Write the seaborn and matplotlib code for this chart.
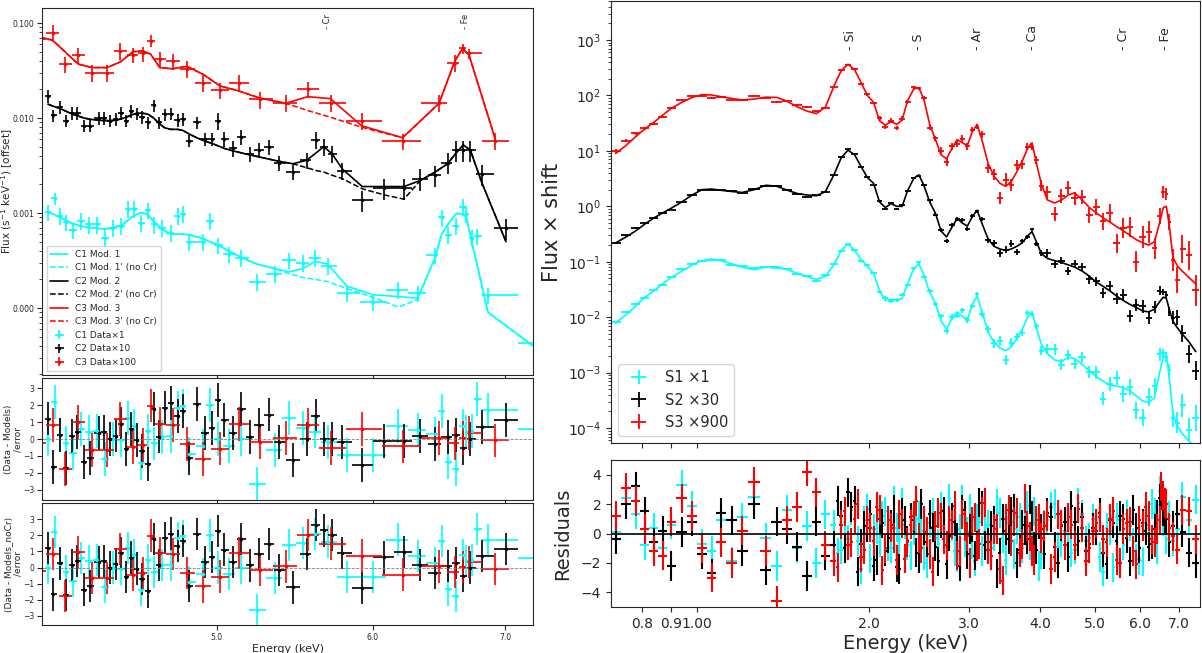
import numpy as np
import pandas as pd
import seaborn as sns
import matplotlib.pyplot as plt
from matplotlib.ticker import (FixedLocator, FixedFormatter, NullLocator,
                               NullFormatter, FormatStrFormatter)
from matplotlib.transforms import blended_transform_factory

sns.set_style("ticks")
plt.rcParams["font.family"] = ["DejaVu Sans"]

CYAN, BLACK, RED = "#00ffff", "black", "red"

# ---------------- left figure: zoom on 4-7 keV, three regions ----------------
e_c1 = [4.108, 4.14, 4.166, 4.195, 4.23, 4.267, 4.31, 4.35, 4.39, 4.43,
        4.474, 4.51, 4.54, 4.58, 4.615, 4.65, 4.69, 4.74, 4.778, 4.808,
        4.843, 4.92, 4.96, 5.01, 5.07, 5.146, 5.24, 5.35, 5.44, 5.53,
        5.61, 5.69, 5.82, 6.00, 6.18, 6.32, 6.45, 6.50, 6.545, 6.61,
        6.66, 6.69, 6.73, 6.77, 6.86, 7.35]
d_c1 = [0.00102, 0.00143, 0.00094, 0.00080, 0.00066, 0.00083, 0.00076, 0.00076, 0.00055, 0.00070,
        0.00073, 0.00111, 0.00111, 0.00079, 0.00107, 0.00076, 0.00070, 0.00062, 0.00094, 0.00098,
        0.00050, 0.00050, 0.00083, 0.00046, 0.00037, 0.00034, 0.00019, 0.00023, 0.00032, 0.00030,
        0.00034, 0.00028, 0.000143, 0.000116, 0.000156, 0.000143, 0.00036, 0.00090, 0.00059, 0.00073,
        0.00116, 0.00098, 0.00055, 0.00057, 0.000137, 0.000043]
m_c1 = [0.00102, 0.00096, 0.00090, 0.00084, 0.00077, 0.00073, 0.00070, 0.00069, 0.00068, 0.00070,
        0.00074, 0.00084, 0.00094, 0.00101, 0.00097, 0.00080, 0.00068, 0.00060, 0.00060, 0.00060,
        0.00059, 0.00054, 0.00050, 0.00046, 0.00040, 0.00034, 0.00029, 0.00026, 0.00024, 0.00026,
        0.00031, 0.00029, 0.00017, 0.000138, 0.000132, 0.000127, 0.00034, 0.00060, 0.00075, 0.00099,
        0.00098, 0.00090, 0.00050, 0.00030, 0.000090, 0.000031]
mnc_c1 = [0.00102, 0.00096, 0.00090, 0.00084, 0.00077, 0.00073, 0.00070, 0.00069, 0.00068, 0.00070,
          0.00074, 0.00084, 0.00094, 0.00101, 0.00097, 0.00080, 0.00068, 0.00060, 0.00060, 0.00060,
          0.00059, 0.00054, 0.00050, 0.00046, 0.00040, 0.00034, 0.00029, 0.00026, 0.00023, 0.00021,
          0.00020, 0.00019, 0.00016, 0.00013, 0.000102, 0.000123, 0.00034, 0.00060, 0.00075, 0.00099,
          0.00098, 0.00090, 0.00050, 0.00030, 0.000090, 0.000031]
f_c1 = [0.2, 0.15] + [0.2] * 43 + [0.45]

e_c2 = [4.108, 4.134, 4.166, 4.195, 4.227, 4.25, 4.285, 4.315, 4.358, 4.385,
        4.417, 4.446, 4.474, 4.501, 4.528, 4.555, 4.582, 4.615, 4.647, 4.675,
        4.706, 4.74, 4.778, 4.808, 4.842, 4.886, 4.935, 4.974, 5.008, 5.044,
        5.099, 5.146, 5.197, 5.254, 5.313, 5.38, 5.465, 5.554, 5.615, 5.665,
        5.72, 5.79, 5.925, 6.08, 6.22, 6.34, 6.45, 6.545, 6.61, 6.665,
        6.72, 6.81, 7.005]
d_c2 = [0.0171, 0.01064, 0.0131, 0.0094, 0.0113, 0.0113, 0.0083, 0.0083, 0.0100, 0.0100,
        0.0094, 0.0098, 0.0113, 0.0094, 0.0119, 0.0111, 0.0102, 0.0090, 0.0136, 0.0090,
        0.0109, 0.0111, 0.0095, 0.0098, 0.0058, 0.0090, 0.0060, 0.0060, 0.0094, 0.0060,
        0.0048, 0.0063, 0.0042, 0.0046, 0.0050, 0.0034, 0.0027, 0.0036, 0.0059, 0.0050,
        0.0042, 0.0028, 0.00137, 0.00184, 0.00184, 0.0023, 0.0025, 0.0034, 0.0046, 0.0046,
        0.0046, 0.00257, 0.0007]
m_c2 = [0.0140, 0.0133, 0.0126, 0.0118, 0.0110, 0.0106, 0.0100, 0.0097, 0.0095, 0.0094,
        0.0094, 0.0095, 0.0098, 0.0102, 0.0108, 0.0112, 0.0113, 0.0110, 0.0100, 0.0088,
        0.0079, 0.0076, 0.0076, 0.0074, 0.0068, 0.0062, 0.0057, 0.0054, 0.0051, 0.0048,
        0.0045, 0.0043, 0.0041, 0.0039, 0.0037, 0.0035, 0.0033, 0.0036, 0.0043, 0.0050,
        0.0042, 0.0029, 0.0019, 0.0019, 0.0019, 0.0022, 0.0027, 0.0033, 0.0043, 0.0052,
        0.0046, 0.0021, 0.0005]
mnc_c2 = [0.0140, 0.0133, 0.0126, 0.0118, 0.0110, 0.0106, 0.0100, 0.0097, 0.0095, 0.0094,
          0.0094, 0.0095, 0.0098, 0.0102, 0.0108, 0.0112, 0.0113, 0.0110, 0.0100, 0.0088,
          0.0079, 0.0076, 0.0076, 0.0074, 0.0068, 0.0062, 0.0057, 0.0054, 0.0051, 0.0048,
          0.0045, 0.0043, 0.0041, 0.0039, 0.0037, 0.0035, 0.0033, 0.0030, 0.0028, 0.0027,
          0.0025, 0.0023, 0.0018, 0.00155, 0.0014, 0.0022, 0.0027, 0.0033, 0.0043, 0.0052,
          0.0046, 0.0021, 0.0005]
f_c2 = [0.15] * 28 + [0.2] + [0.18] * 8 + [0.2] * 5 + [0.25] * 11

e_c3 = [4.07, 4.13, 4.19, 4.255, 4.325, 4.40, 4.47, 4.536, 4.59, 4.63,
        4.68, 4.75, 4.83, 4.92, 5.02, 5.13, 5.26, 5.42, 5.56, 5.71,
        5.92, 6.21, 6.48, 6.60, 6.66, 6.71, 6.92]
d_c3 = [0.068, 0.079, 0.037, 0.046, 0.030, 0.030, 0.0508, 0.046, 0.048, 0.065,
        0.0416, 0.0397, 0.0329, 0.0235, 0.0196, 0.0235, 0.0157, 0.0145, 0.0202, 0.0145,
        0.0094, 0.0057, 0.0145, 0.038, 0.0543, 0.048, 0.0058]
m_c3 = [0.071, 0.066, 0.050, 0.037, 0.034, 0.034, 0.039, 0.050, 0.051, 0.047,
        0.034, 0.033, 0.035, 0.029, 0.0218, 0.0193, 0.0162, 0.0143, 0.0168, 0.0160,
        0.0083, 0.0062, 0.0143, 0.040, 0.054, 0.046, 0.0059]
mnc_c3 = [0.071, 0.066, 0.050, 0.037, 0.034, 0.034, 0.039, 0.050, 0.051, 0.047,
          0.034, 0.033, 0.035, 0.029, 0.0218, 0.0193, 0.0162, 0.0143, 0.0120, 0.0102,
          0.0080, 0.0062, 0.0143, 0.040, 0.054, 0.046, 0.0059]
f_c3 = [0.2] * 7 + [0.18, 0.18, 0.14] + [0.2] * 14 + [0.12, 0.12, 0.2]

# ---------------- right figure: full band spectra ----------------
energy = [0.72, 0.75, 0.78, 0.81, 0.84, 0.87, 0.90, 0.94, 0.98, 1.02,
          1.06, 1.10, 1.15, 1.20, 1.26, 1.32, 1.38, 1.44, 1.50, 1.56,
          1.62, 1.68, 1.74, 1.79, 1.84, 1.89, 1.94, 1.99, 2.04, 2.09,
          2.14, 2.19, 2.24, 2.29, 2.34, 2.40, 2.45, 2.50, 2.56, 2.62,
          2.68, 2.74, 2.80, 2.86, 2.92, 2.98, 3.04, 3.10, 3.16, 3.24,
          3.32, 3.40, 3.48, 3.56, 3.64, 3.72, 3.80, 3.87, 3.94, 4.02,
          4.12, 4.24, 4.36, 4.48, 4.60, 4.74, 4.88, 5.02, 5.16, 5.30,
          5.45, 5.60, 5.75, 5.90, 6.05, 6.20, 6.35, 6.48, 6.58, 6.66,
          6.74, 6.84, 6.96, 7.10, 7.30, 7.50]
model_s1 = [0.0080, 0.011, 0.016, 0.023, 0.030, 0.040, 0.052, 0.068, 0.088, 0.105,
            0.112, 0.105, 0.092, 0.080, 0.072, 0.080, 0.082, 0.072, 0.062, 0.054,
            0.048, 0.055, 0.090, 0.16, 0.21, 0.16, 0.11, 0.082, 0.062, 0.030,
            0.020, 0.021, 0.020, 0.022, 0.040, 0.075, 0.092, 0.058, 0.028, 0.018,
            0.0085, 0.0062, 0.0095, 0.0125, 0.0105, 0.0088, 0.017, 0.024, 0.013, 0.0055,
            0.0035, 0.0028, 0.0025, 0.0029, 0.0042, 0.0060, 0.0098, 0.0122, 0.0065, 0.0032,
            0.0022, 0.0017, 0.0016, 0.0019, 0.0018, 0.0014, 0.0011, 0.00085, 0.00070, 0.00060,
            0.00057, 0.00054, 0.00047, 0.00038, 0.00031, 0.00029, 0.00035, 0.0010, 0.0019, 0.0021,
            0.0008, 0.00018, 0.00011, 0.000080, 0.000058, 0.000045]
model_s2 = [0.22, 0.28, 0.36, 0.48, 0.62, 0.76, 0.92, 1.2, 1.6, 2.0,
            2.05, 1.95, 1.85, 1.78, 2.0, 2.4, 2.3, 1.95, 1.7, 1.6,
            1.55, 1.85, 3.8, 7.5, 10.3, 8.5, 5.2, 3.3, 2.6, 1.2,
            0.95, 1.12, 1.0, 1.0, 1.9, 3.2, 3.7, 2.4, 1.2, 0.75,
            0.36, 0.28, 0.42, 0.60, 0.50, 0.44, 0.65, 0.85, 0.50, 0.26,
            0.19, 0.17, 0.16, 0.17, 0.19, 0.22, 0.29, 0.35, 0.23, 0.14,
            0.115, 0.105, 0.097, 0.088, 0.080, 0.068, 0.055, 0.043, 0.036, 0.030,
            0.024, 0.020, 0.017, 0.015, 0.013, 0.0125, 0.014, 0.019, 0.023, 0.022,
            0.014, 0.0085, 0.0065, 0.0050, 0.0036, 0.0024]
model_s3 = [9.0, 12.5, 18, 25, 33, 44, 58, 75, 92, 103,
            102, 95, 88, 83, 86, 93, 92, 78, 62, 52,
            47, 62, 150, 280, 365, 290, 170, 100, 75, 35,
            29, 34, 30, 36, 80, 130, 138, 85, 30, 16,
            8.5, 7.2, 11, 16, 14, 12.5, 22, 30, 16, 6.0,
            3.5, 2.6, 2.3, 2.8, 4.2, 6.5, 11, 14, 6.0, 2.5,
            1.3, 1.15, 1.3, 1.6, 1.75, 1.3, 0.95, 0.76, 0.62, 0.52,
            0.43, 0.36, 0.30, 0.25, 0.22, 0.20, 0.23, 0.50, 0.95, 1.0,
            0.45, 0.12, 0.085, 0.068, 0.052, 0.040]
frac_err = [0.06, 0.05, 0.05, 0.04, 0.04, 0.04, 0.035, 0.03, 0.03, 0.03,
            0.03, 0.03, 0.03, 0.03, 0.03, 0.03, 0.03, 0.03, 0.03, 0.035,
            0.035, 0.035, 0.03, 0.025, 0.02, 0.025, 0.03, 0.04, 0.045, 0.06,
            0.07, 0.07, 0.07, 0.07, 0.06, 0.05, 0.05, 0.06, 0.08, 0.09,
            0.12, 0.13, 0.12, 0.10, 0.11, 0.12, 0.10, 0.09, 0.12, 0.16,
            0.20, 0.22, 0.24, 0.22, 0.18, 0.15, 0.12, 0.11, 0.14, 0.20,
            0.24, 0.25, 0.25, 0.24, 0.24, 0.26, 0.28, 0.30, 0.32, 0.34,
            0.36, 0.38, 0.40, 0.42, 0.44, 0.45, 0.42, 0.30, 0.22, 0.22,
            0.30, 0.45, 0.55, 0.60, 0.65, 0.70]
res_s1 = [0.1, 2.4, 1.3, -0.8, 0.4, -1.0, 0.6, 3.3, 1.9, -0.7,
          -1.2, 0.9, -1.9, 1.1, 2.5, -0.3, -2.2, 1.6, -1.0, 0.5,
          -2.0, 1.3, 0.6, -1.1, -0.4, 1.0, -2.4, 1.7, 0.3, -0.6,
          1.5, -1.0, 0.4, 2.1, -0.8, 0.2, 1.2, -1.5, 0.7, -0.3,
          1.8, -0.9, 0.5, -1.6, 2.3, 0.1, -0.7, 1.0, -1.2, 0.6,
          -0.2, 1.4, -1.8, 0.8, 0.3, -1.0, 1.9, -0.5, 0.6, -1.4,
          0.9, 2.0, -0.6, 0.4, -1.1, 1.3, -0.3, 0.7, -2.6, 0.2,
          1.1, -0.8, 0.5, -1.7, -1.9, 0.6, 1.4, 2.9, 0.8, -0.4,
          1.2, -0.5, 0.3, 2.5, 0.9, 2.3]
res_s2 = [-0.4, 2.0, 3.2, 1.5, -0.6, 0.2, -2.2, 0.1, 0.8, -1.4,
          -2.7, 1.4, 0.9, -1.2, 2.0, -2.5, 0.8, 0.3, -0.9, -2.9,
          0.8, -1.5, -0.8, 1.2, 2.8, 2.2, -0.7, 0.4, -2.2, 1.0,
          -1.2, 0.6, -2.3, 1.4, -0.5, 0.9, -1.7, 0.2, 1.3, -0.9,
          0.7, -2.1, 1.1, -0.3, 1.6, -1.4, 0.4, -0.8, 1.9, -0.6,
          0.9, -1.3, 0.2, 1.5, -2.0, 0.6, -0.4, 1.2, -1.1, 0.3,
          1.4, -0.9, 0.5, -1.6, 0.8, 1.1, -0.7, 0.2, -1.3, 0.9,
          -0.5, 1.0, -1.9, 0.4, 0.7, -0.9, 0.3, 2.4, 1.5, 1.0,
          -0.6, 0.5, 1.3, 0.1, -1.3, -2.0]
res_s3 = [1.2, 3.1, 2.2, 0.3, -1.2, -1.5, 0.8, 2.4, 1.2, -1.0,
          -3.0, -0.6, -2.0, 0.2, 3.5, -1.2, -4.6, 0.9, 1.8, 4.2,
          2.8, -0.8, -1.9, 0.6, -0.8, 1.0, -1.6, 0.9, -0.5, 1.6,
          -1.0, 0.4, -1.8, 0.7, -0.6, 1.2, -0.3, 0.9, -1.4, 0.5,
          1.1, -0.8, 0.6, -1.5, 1.3, -0.2, 0.8, -0.9, 1.5, -1.1,
          0.3, -2.4, 1.0, -0.5, 1.4, -0.7, 0.5, -1.2, 0.9, -0.3,
          1.2, -1.6, 0.6, 1.1, -0.8, 0.4, -1.0, 0.7, -0.4, 1.0,
          -1.8, 0.3, 0.8, -2.1, 0.5, 1.2, -0.6, 0.9, 2.6, 2.0,
          0.4, -0.2, -1.1, 1.6, 1.5, -0.4]

# extra residual channels between the spectral bins (1.7-6.6 keV)
energy_fill = [1.765, 1.815, 1.865, 1.915, 1.965, 2.015, 2.065, 2.115, 2.165, 2.215,
               2.265, 2.315, 2.37, 2.425, 2.475, 2.53, 2.59, 2.65, 2.71, 2.77,
               2.83, 2.89, 2.95, 3.01, 3.07, 3.13, 3.20, 3.28, 3.36, 3.44,
               3.52, 3.60, 3.68, 3.76, 3.835, 3.905, 3.98, 4.07, 4.18, 4.30,
               4.42, 4.54, 4.67, 4.81, 4.95, 5.09, 5.23, 5.375, 5.525, 5.675,
               5.825, 5.975, 6.125, 6.275, 6.415, 6.53, 6.62]
fill_s1 = [-1.3, 0.8, 1.6, -0.5, 0.9, -1.7, 0.3, 1.2, -0.9, 2.2,
           -0.4, 0.6, -1.5, 1.0, 0.2, -2.0, 1.4, -0.7, 0.5, 2.4,
           -1.2, 0.3, -0.6, 1.7, -1.9, 0.8, 0.1, -1.0, 2.0, -0.3,
           0.7, -1.4, 1.1, 0.4, -0.8, 1.5, -2.2, 0.6, 1.8, -0.9,
           0.2, -1.3, 2.1, -0.5, 1.0, -1.6, 0.4, -2.3, 0.9, 1.3,
           -0.6, -1.8, 0.7, 2.0, -1.1, 3.0, 1.6]
fill_s2 = [2.2, -1.0, 1.8, -2.6, 0.5, 1.3, -1.8, 0.7, -0.3, 1.6,
           -2.4, 0.9, 1.1, -1.3, 2.0, -0.6, 0.4, -1.9, 1.5, -0.2,
           0.8, -2.2, 1.2, 0.3, -1.5, 2.1, -0.8, 0.5, -2.7, 1.0,
           -0.4, 1.7, -1.1, 0.2, 2.3, -0.9, 0.6, -1.4, 1.1, -2.0,
           0.8, 1.9, -0.5, -1.2, 0.4, 1.4, -2.1, 0.7, 1.2, -0.3,
           1.6, -1.0, 0.2, -0.7, 1.3, 2.6, 0.9]
fill_s3 = [-2.3, 1.5, -0.6, 2.0, -1.1, 0.4, 1.8, -2.5, 0.9, -0.3,
           1.3, -1.7, 0.6, 2.2, -1.0, 0.1, -2.6, 1.4, -0.4, 0.9,
           1.9, -1.2, 0.5, -2.0, 1.1, -0.7, 2.1, -1.5, 0.3, -3.2,
           1.6, 0.8, -1.3, 2.4, -0.2, -1.8, 1.0, 0.5, -2.4, 1.3,
           -0.8, 0.6, 1.7, -1.9, 0.2, 1.1, -0.6, 1.5, -2.0, 0.7,
           -1.2, 0.9, 1.8, -0.4, 0.3, 3.2, 2.1]

line_names = ["- Si", "- S", "- Ar", "- Ca", "- Cr", "- Fe"]
line_energies = [1.86, 2.45, 3.10, 3.88, 5.60, 6.65]


def bin_halfwidths(e):
    e = np.asarray(e, dtype=float)
    mid = np.sqrt(e[:-1] * e[1:])
    lo_edge = np.r_[e[0] ** 2 / mid[0], mid]
    hi_edge = np.r_[mid, e[-1] ** 2 / mid[-1]]
    return np.vstack([e - lo_edge, hi_edge - e])


fig = plt.figure(figsize=(12.02, 6.53), dpi=100)

# ---- left block ----
ax_f = fig.add_axes([0.035, 0.4257, 0.4085, 0.562])
ax_r1 = fig.add_axes([0.035, 0.2343, 0.4085, 0.1868], sharex=ax_f)
ax_r2 = fig.add_axes([0.035, 0.0429, 0.4085, 0.1868], sharex=ax_f)
ax_f.set_xscale("log")
ax_f.set_yscale("log")

left_sets = [
    ("C1", 1, "Data×1", e_c1, d_c1, m_c1, mnc_c1, f_c1, CYAN),
    ("C2", 2, "Data×10", e_c2, d_c2, m_c2, mnc_c2, f_c2, BLACK),
    ("C3", 3, "Data×100", e_c3, d_c3, m_c3, mnc_c3, f_c3, RED),
]
for tag, n, dlab, e, d, m, mnc, f, col in left_sets:
    sns.lineplot(x=e, y=m, ax=ax_f, color=col, lw=1.2, sort=False,
                 estimator=None, label=f"{tag} Mod. {n}")
    sns.lineplot(x=e, y=mnc, ax=ax_f, color=col, lw=1.1, ls="--", sort=False,
                 estimator=None, label=f"{tag} Mod. {n}' (no Cr)")

for tag, n, dlab, e, d, m, mnc, f, col in left_sets:
    e = np.array(e)
    d = np.array(d)
    yerr = np.array(f) * d
    xerr = bin_halfwidths(e)
    ax_f.errorbar(e, d, xerr=xerr, yerr=yerr, fmt="o", ms=1.5, color=col,
                  elinewidth=1.2, capsize=0, label=f"{tag} {dlab}")
    res1 = (d - np.array(m)) / yerr
    res2 = (d - np.array(mnc)) / yerr
    ax_r1.errorbar(e, res1, xerr=xerr, yerr=1, fmt="o", ms=1.5, color=col,
                   elinewidth=1.2, capsize=0)
    ax_r2.errorbar(e, res2, xerr=xerr, yerr=1, fmt="o", ms=1.5, color=col,
                   elinewidth=1.2, capsize=0)

ax_f.set_xlim(4.08, 7.23)
ax_f.set_ylim(1.97e-5, 0.144)
ax_f.yaxis.set_major_formatter(FormatStrFormatter("%.3f"))
ax_f.yaxis.set_minor_formatter(NullFormatter())
ax_f.xaxis.set_major_locator(FixedLocator([5, 6, 7]))
ax_f.xaxis.set_major_formatter(FixedFormatter(["5.0", "6.0", "7.0"]))
ax_f.xaxis.set_minor_locator(NullLocator())
ax_f.set_ylabel("Flux (s$^{-1}$ keV$^{-1}$) [offset]", fontsize=7.5)
ax_f.yaxis.set_label_coords(-0.055, 0.5)
ax_f.tick_params(labelbottom=False, labelsize=5.5, pad=2)
ax_f.legend(loc="lower left", fontsize=6.5)

tr = blended_transform_factory(ax_f.transData, ax_f.transAxes)
for name, en in [("- Cr", 5.69), ("- Fe", 6.68)]:
    ax_f.text(en, 0.943, name, rotation=90, ha="center", va="bottom",
              fontsize=6, transform=tr)

for ax, lab, lim in [(ax_r1, "(Data - Models)\n/error", (-3.6, 3.6)),
                     (ax_r2, "(Data - Models_noCr)\n/error", (-3.56, 4.0))]:
    ax.axhline(0, color="gray", lw=0.6, ls="--")
    ax.set_ylim(*lim)
    ax.set_yticks([-3, -2, -1, 0, 1, 2, 3])
    ax.set_ylabel(lab, fontsize=6.5, linespacing=1.1)
    ax.yaxis.set_label_coords(-0.039, 0.5)
    ax.tick_params(labelsize=5.5, pad=2)
ax_r1.tick_params(labelbottom=False)
ax_r2.set_xlabel("Energy (keV)", fontsize=8, labelpad=2)

# ---- right block ----
ax_s = fig.add_axes([0.5083, 0.3216, 0.490, 0.677])
ax_res = fig.add_axes([0.5083, 0.0704, 0.490, 0.2251], sharex=ax_s)
ax_s.set_xscale("log")
ax_s.set_yscale("log")

xerr_r = bin_halfwidths(energy)
res_e = np.array(energy + energy_fill)
order = np.argsort(res_e)
res_e = res_e[order]
xerr_res = bin_halfwidths(res_e)
right_sets = [(model_s1, res_s1, fill_s1, 1.0, CYAN, "S1 ×1"),
              (model_s2, res_s2, fill_s2, 0.7, BLACK, "S2 ×30"),
              (model_s3, res_s3, fill_s3, 1.3, RED, "S3 ×900")]
for model, res, fill, scale, col, lab in right_sets:
    f = np.array(frac_err) * scale
    data = np.array(model) * (1 + f) ** np.array(res)
    yerr = np.vstack([data - data / (1 + f), data * f])
    ax_s.errorbar(energy, data, xerr=xerr_r, yerr=yerr, fmt="none",
                  ecolor=col, elinewidth=1.3, capsize=0, label=lab)
    sns.lineplot(x=energy, y=model, ax=ax_s, color=col, lw=1.2, sort=False,
                 estimator=None)
    res_all = np.array(res + fill)[order]
    ax_res.errorbar(res_e, res_all, xerr=xerr_res, yerr=1, fmt="none",
                    ecolor=col, elinewidth=1.5, capsize=0)

ax_s.set_xlim(0.706, 7.63)
ax_s.set_ylim(5.4e-5, 5060)
ax_s.yaxis.set_minor_formatter(NullFormatter())
ax_s.xaxis.set_major_locator(FixedLocator([0.8, 0.9, 1, 2, 3, 4, 5, 6, 7]))
ax_s.xaxis.set_major_formatter(FixedFormatter(
    ["0.8", "0.9", "1.00", "2.0", "3.0", "4.0", "5.0", "6.0", "7.0"]))
ax_s.xaxis.set_minor_locator(NullLocator())
ax_s.tick_params(labelbottom=False, labelsize=10)
ax_s.set_ylabel("Flux × shift", fontsize=15)
ax_s.legend(loc="lower left", fontsize=10.5)

tr2 = blended_transform_factory(ax_s.transData, ax_s.transAxes)
for name, en in zip(line_names, line_energies):
    ax_s.text(en, 0.889, name, rotation=90, ha="center", va="bottom",
              fontsize=9, transform=tr2)

ax_res.axhline(0, color="black", lw=1.2)
ax_res.set_ylim(-5, 5)
ax_res.set_yticks([-4, -2, 0, 2, 4])
ax_res.tick_params(labelsize=10)
ax_res.set_ylabel("Residuals", fontsize=14, labelpad=6)
ax_res.set_xlabel("Energy (keV)", fontsize=14, labelpad=2)

fig.savefig("out.png", dpi=100)
